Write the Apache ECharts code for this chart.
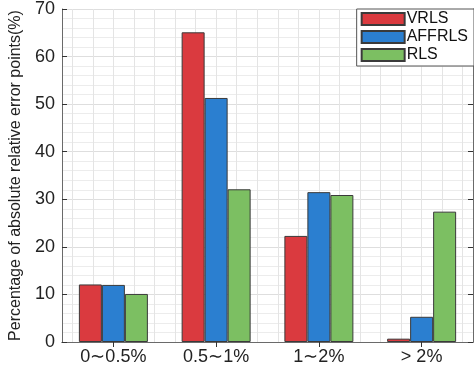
<!DOCTYPE html>
<html>
<head>
<meta charset="utf-8">
<script src="https://cdn.jsdelivr.net/npm/echarts@6/dist/echarts.min.js"></script>
<style>html,body{margin:0;padding:0;background:#fff;}#c{width:474px;height:366px;}</style>
</head>
<body>
<div id="c"></div>
<script>
var categories = ['0\u223C0.5%', '0.5\u223C1%', '1\u223C2%', '> 2%'];
var seriesNames = ['VRLS', 'AFFRLS', 'RLS'];
var vrls = [12.1, 65.1, 22.3, 0.7];
var affrls = [12.0, 51.3, 31.5, 5.3];
var rls = [10.1, 32.1, 30.9, 27.4];
var yTicks = [0, 10, 20, 30, 40, 50, 60, 70];

var colors = ['#DA3A3F', '#2B7FD0', '#7CBF62'];
var font = 'Liberation Sans, Arial, Helvetica, sans-serif';
var minorSlots = Array.from({length: 41}, function (_, i) { return String(i); });

var chart = echarts.init(document.getElementById('c'), null, {renderer: 'canvas'});
var seriesData = [vrls, affrls, rls];
chart.setOption({
  animation: false,
  backgroundColor: '#fff',
  textStyle: {fontFamily: font},
  grid: {left: 45, right: 1, top: 7, bottom: 23, containLabel: false},
  legend: {
    orient: 'vertical', right: 0, top: 9,
    data: seriesNames,
    icon: 'rect',
    itemWidth: 43, itemHeight: 12, itemGap: 2,
    padding: [2, 6, 3, 4],
    borderColor: '#555', borderWidth: 1, backgroundColor: '#fff',
    textStyle: {fontSize: 16, color: '#111', fontFamily: font, lineHeight: 16, padding: [0, 0, 0, -3]}
  },
  xAxis: [
    {
      type: 'category', data: categories, position: 'bottom',
      axisLine: {show: true, lineStyle: {color: '#6a6a6a', width: 1}},
      axisTick: {show: true, inside: true, alignWithLabel: true, length: 5, lineStyle: {color: '#333'}},
      axisLabel: {fontSize: 18, color: '#222', margin: 6, fontFamily: font},
      splitLine: {show: false}
    },
    {
      type: 'category', data: categories, position: 'top',
      axisLine: {show: true, lineStyle: {color: '#6a6a6a', width: 1}},
      axisTick: {show: true, inside: true, alignWithLabel: true, length: 5, lineStyle: {color: '#333'}},
      axisLabel: {show: false},
      splitLine: {show: false}
    },
    {
      type: 'category', data: minorSlots, boundaryGap: false, position: 'bottom',
      axisLine: {show: false}, axisTick: {show: false}, axisLabel: {show: false},
      splitLine: {show: true, interval: function (i) { return i % 2 === 1; }, lineStyle: {color: '#e4e4e4', width: 1}}
    }
  ],
  yAxis: [
    {
      type: 'value', min: yTicks[0], max: yTicks[yTicks.length - 1], interval: 10, position: 'left',
      axisLine: {show: true, lineStyle: {color: '#6a6a6a', width: 1}},
      axisTick: {show: true, inside: true, length: 5, lineStyle: {color: '#333'}},
      axisLabel: {fontSize: 18, color: '#222', margin: 7, fontFamily: font},
      splitLine: {show: true, lineStyle: {color: '#dedede', width: 1}},
      minorTick: {show: false, splitNumber: 5},
      minorSplitLine: {show: true, lineStyle: {color: '#ececec', width: 1}},
      name: 'Percentage of absolute relative error points(%)',
      nameLocation: 'middle', nameGap: 38, nameRotate: 90,
      nameTextStyle: {fontSize: 16, color: '#222', fontFamily: font}
    },
    {
      type: 'value', min: yTicks[0], max: yTicks[yTicks.length - 1], interval: 10, position: 'right',
      axisLine: {show: true, lineStyle: {color: '#6a6a6a', width: 1}},
      axisTick: {show: true, inside: true, length: 5, lineStyle: {color: '#333'}},
      axisLabel: {show: false},
      splitLine: {show: false}
    }
  ],
  series: seriesNames.map(function (name, k) {
    return {
      name: name, type: 'bar', xAxisIndex: 0, yAxisIndex: 0,
      data: seriesData[k], barWidth: 23, barGap: '0%',
      itemStyle: {color: colors[k], borderColor: '#3a3a3a', borderWidth: 1}
    };
  })
});
</script>
</body>
</html>
